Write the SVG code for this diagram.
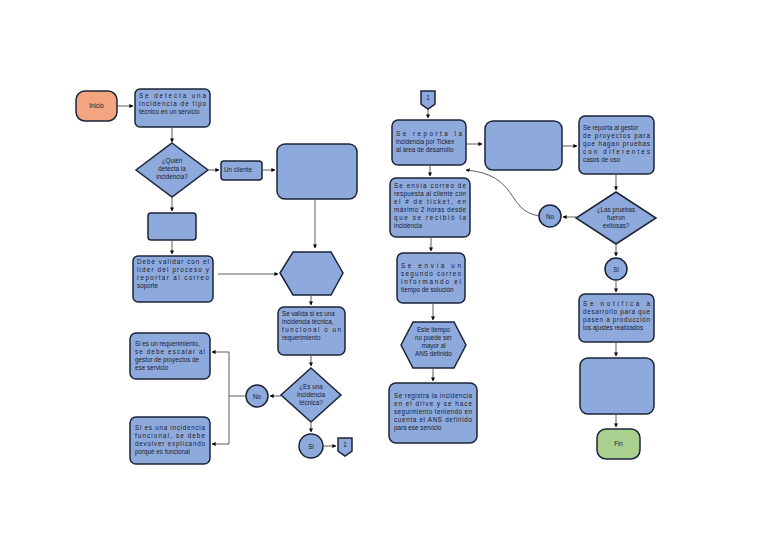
<svg xmlns="http://www.w3.org/2000/svg" width="768" height="543" viewBox="0 0 768 543">
<defs>
<marker id="a" viewBox="0 0 10 10" refX="9" refY="5" markerWidth="5" markerHeight="5" orient="auto"><path d="M0,0L10,5L0,10z" fill="#000"/></marker>
<style>
.n{fill:#8eaadc;stroke:#1c2438;stroke-width:1.5}
.t{font-family:"Liberation Sans",Arial,sans-serif;font-size:6.3px;fill:#1a1a2e}
.c{text-anchor:middle}
.l{fill:none;stroke:#333;stroke-width:0.8;marker-end:url(#a)}
</style>
</defs>
<rect width="768" height="543" fill="#fff"/>
<g id="connectors">
<path class="l" d="M118,106H133"/>
<path class="l" d="M172,128V142"/>
<path class="l" d="M209,170H219"/>
<path class="l" d="M263,170H275"/>
<path class="l" d="M172,198V211"/>
<path class="l" d="M172,241V254"/>
<path class="l" d="M315,200V248"/>
<path class="l" d="M218,274H278"/>
<path class="l" d="M311,296V305"/>
<path class="l" d="M311,356V366"/>
<path class="l" d="M311,423V432"/>
<path class="l" d="M323,446H336"/>
<path class="l" d="M281,396H270"/>
<path class="l" d="M246,396H229V352H212"/>
<path class="l" d="M229,396V444H212"/>
<path class="l" d="M428,109V118"/>
<path class="l" d="M467,144H482"/>
<path class="l" d="M563,146H577"/>
<path class="l" d="M616,175V190"/>
<path class="l" d="M576,217H563"/>
<path class="l" d="M539,216C505,210 520,175 466,170"/>
<path class="l" d="M616,245V256"/>
<path class="l" d="M616,281V292"/>
<path class="l" d="M616,343V356"/>
<path class="l" d="M616,415V427"/>
<path class="l" d="M430,166V176"/>
<path class="l" d="M431,238V251"/>
<path class="l" d="M433,304V320"/>
<path class="l" d="M433,369V381"/>
</g>
<g id="inicio"><rect x="76" y="91" width="41" height="30" rx="9" fill="#f2a57e" stroke="#1c2438" stroke-width="1.5"/><text class="t c" x="96.5" y="108">Inicio</text></g>
<g id="detecta"><rect class="n" x="135" y="89" width="75" height="38" rx="5"/>
<text class="t" x="139" y="98" textLength="67" lengthAdjust="spacing">Se detecta una</text>
<text class="t" x="139" y="106" textLength="67" lengthAdjust="spacing">incidencia de tipo</text>
<text class="t" x="139" y="114">técnico en un servicio</text></g>
<g id="quien"><path class="n" d="M172,143L208,170L172,197L136,170Z"/>
<text class="t c" x="172" y="163">¿Quién</text><text class="t c" x="172" y="171">detecta la</text><text class="t c" x="172" y="179">incidencia?</text></g>
<g id="cliente"><rect class="n" x="221" y="161" width="41" height="19" rx="3"/><text class="t" x="224" y="172">Un cliente</text></g>
<g id="big1"><rect class="n" x="277" y="144" width="80" height="55" rx="8"/></g>
<g id="small1"><rect class="n" x="148" y="213" width="48" height="27" rx="3"/></g>
<g id="validar"><rect class="n" x="133" y="256" width="80" height="46" rx="5"/>
<text class="t" x="137" y="264" textLength="72" lengthAdjust="spacing">Debe validar con el</text>
<text class="t" x="137" y="272" textLength="72" lengthAdjust="spacing">lider del proceso y</text>
<text class="t" x="137" y="280" textLength="72" lengthAdjust="spacing">reportar al correo</text>
<text class="t" x="137" y="288">soporte</text></g>
<g id="hex1"><path class="n" d="M280,273L293,252H331L343,273L331,295H293Z"/></g>
<g id="valida"><rect class="n" x="278" y="307" width="67" height="48" rx="6"/>
<text class="t" x="282" y="316">Se valida si es una</text>
<text class="t" x="282" y="324">incidencia técnica,</text>
<text class="t" x="282" y="332" textLength="59" lengthAdjust="spacing">funcional o un</text>
<text class="t" x="282" y="340">requerimiento</text></g>
<g id="estecnica"><path class="n" d="M311,368L341,395L311,422L281,395Z"/>
<text class="t c" x="311" y="389">¿Es una</text><text class="t c" x="311" y="397">incidencia</text><text class="t c" x="311" y="405">técnica?</text></g>
<g id="si1"><circle class="n" cx="311" cy="446" r="12"/><text class="t c" x="311" y="449">Si</text></g>
<g id="off1"><path class="n" d="M338,438H352V451L345,456L338,451Z"/><text class="t c" x="345" y="447">1</text></g>
<g id="no1"><circle class="n" cx="257" cy="396" r="11"/><text class="t c" x="257" y="399">No</text></g>
<g id="req"><rect class="n" x="130" y="333" width="80" height="46" rx="6"/>
<text class="t" x="135" y="346">Si es un requerimiento,</text>
<text class="t" x="135" y="354" textLength="70" lengthAdjust="spacing">se debe escalar al</text>
<text class="t" x="135" y="362">gestor de proyectos de</text>
<text class="t" x="135" y="370">ese servicio</text></g>
<g id="func"><rect class="n" x="130" y="417" width="80" height="47" rx="6"/>
<text class="t" x="135" y="430" textLength="70" lengthAdjust="spacing">Si es una incidencia</text>
<text class="t" x="135" y="438" textLength="70" lengthAdjust="spacing">funcional, se debe</text>
<text class="t" x="135" y="446" textLength="70" lengthAdjust="spacing">devolver explicando</text>
<text class="t" x="135" y="454">porqué es funcional</text></g>
<g id="off2"><path class="n" d="M421,91H435V104L428,109L421,104Z"/><text class="t c" x="428" y="100">1</text></g>
<g id="reporta"><rect class="n" x="392" y="120" width="74" height="45" rx="6"/>
<text class="t" x="396" y="136" textLength="66" lengthAdjust="spacing">Se reporta la</text>
<text class="t" x="396" y="144">incidencia por Tickex</text>
<text class="t" x="396" y="152">al área de desarrollo</text></g>
<g id="empty2"><rect class="n" x="485" y="121" width="77" height="49" rx="8"/></g>
<g id="gestor"><rect class="n" x="579" y="116" width="75" height="58" rx="6"/>
<text class="t" x="583" y="130">Se reporta al gestor</text>
<text class="t" x="583" y="138" textLength="67" lengthAdjust="spacing">de proyectos para</text>
<text class="t" x="583" y="146" textLength="67" lengthAdjust="spacing">que hagan pruebas</text>
<text class="t" x="583" y="154" textLength="67" lengthAdjust="spacing">con diferentes</text>
<text class="t" x="583" y="162">casos de uso</text></g>
<g id="pruebas"><path class="n" d="M616,192L656,218L616,244L576,218Z"/>
<text class="t c" x="616" y="212">¿Las pruebas</text><text class="t c" x="616" y="220">fueron</text><text class="t c" x="616" y="228">exitosas?</text></g>
<g id="no2"><circle class="n" cx="550" cy="216" r="11"/><text class="t c" x="550" y="219">No</text></g>
<g id="si2"><circle class="n" cx="616" cy="269" r="11"/><text class="t c" x="616" y="272">Si</text></g>
<g id="notifica"><rect class="n" x="579" y="294" width="75" height="48" rx="6"/>
<text class="t" x="583" y="306" textLength="67" lengthAdjust="spacing">Se notifica a</text>
<text class="t" x="583" y="314" textLength="67" lengthAdjust="spacing">desarrollo para que</text>
<text class="t" x="583" y="322" textLength="67" lengthAdjust="spacing">pasen a producción</text>
<text class="t" x="583" y="330">los ajustes realizados</text></g>
<g id="empty3"><rect class="n" x="580" y="358" width="74" height="56" rx="8"/></g>
<g id="fin"><rect x="597" y="429" width="43" height="30" rx="9" fill="#a9d08e" stroke="#1c2438" stroke-width="1.5"/><text class="t c" x="618.5" y="446">Fin</text></g>
<g id="envia"><rect class="n" x="390" y="178" width="80" height="59" rx="6"/>
<text class="t" x="394" y="188" textLength="72" lengthAdjust="spacing">Se envía correo de</text>
<text class="t" x="394" y="196" textLength="72" lengthAdjust="spacing">respuesta al cliente con</text>
<text class="t" x="394" y="204" textLength="72" lengthAdjust="spacing">el # de ticket, en</text>
<text class="t" x="394" y="212" textLength="72" lengthAdjust="spacing">máximo 2 horas desde</text>
<text class="t" x="394" y="220" textLength="72" lengthAdjust="spacing">que se recibió la</text>
<text class="t" x="394" y="228">incidencia</text></g>
<g id="segundo"><rect class="n" x="397" y="253" width="68" height="50" rx="6"/>
<text class="t" x="401" y="268" textLength="60" lengthAdjust="spacing">Se envía un</text>
<text class="t" x="401" y="276" textLength="60" lengthAdjust="spacing">segundo correo</text>
<text class="t" x="401" y="284" textLength="60" lengthAdjust="spacing">informando el</text>
<text class="t" x="401" y="292">tiempo de solución</text></g>
<g id="hex2"><path class="n" d="M401,345L413,322H454L466,345L454,368H413Z"/>
<text class="t c" x="433.5" y="332">Este tiempo</text><text class="t c" x="433.5" y="340">no puede ser</text><text class="t c" x="433.5" y="348">mayor al</text><text class="t c" x="433.5" y="356">ANS definido</text></g>
<g id="registra"><rect class="n" x="389" y="383" width="88" height="60" rx="7"/>
<text class="t" x="394" y="398" textLength="78" lengthAdjust="spacing">Se registra la incidencia</text>
<text class="t" x="394" y="406" textLength="78" lengthAdjust="spacing">en el drive y se hace</text>
<text class="t" x="394" y="414" textLength="78" lengthAdjust="spacing">seguimiento teniendo en</text>
<text class="t" x="394" y="422" textLength="78" lengthAdjust="spacing">cuenta el ANS definido</text>
<text class="t" x="394" y="430">para ese servicio</text></g>
</svg>
